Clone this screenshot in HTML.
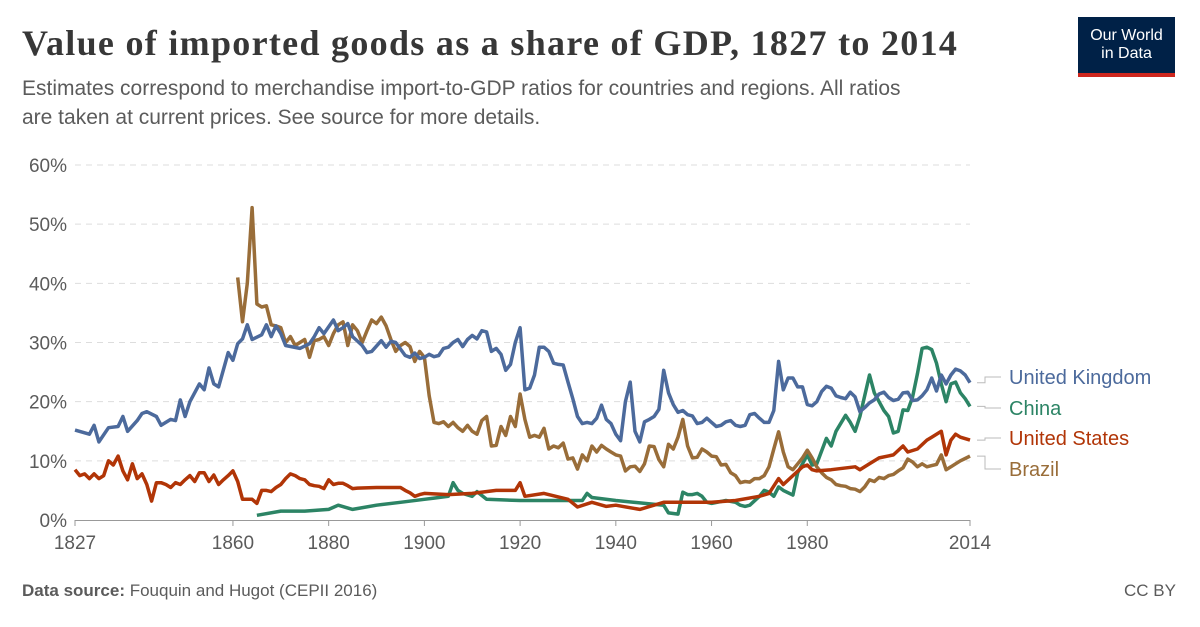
<!DOCTYPE html>
<html><head><meta charset="utf-8">
<style>
body{margin:0;background:#fff;}
#root{position:relative;width:1200px;height:627px;overflow:hidden;font-family:"Liberation Sans",sans-serif;}
.title{position:absolute;left:22px;top:22px;font-family:"Liberation Serif",serif;font-weight:bold;font-size:36px;letter-spacing:1.3px;color:#373737;white-space:nowrap;}
.sub{position:absolute;left:22px;top:74px;width:1060px;font-size:21px;line-height:29px;color:#5b5b5b;white-space:nowrap;}
.logo{position:absolute;left:1078px;top:17px;width:97px;height:60px;background:#002147;color:#fff;font-size:16px;line-height:18px;text-align:center;}
.logo span{position:absolute;left:0;width:97px;top:10px;}
.logo i{position:absolute;left:0;bottom:0;width:97px;height:4px;background:#ce261e;}
.foot{position:absolute;top:581px;font-size:17px;color:#5b5b5b;}
</style></head><body>
<div id="root">
<div class="title">Value of imported goods as a share of GDP, 1827 to 2014</div>
<div class="sub">Estimates correspond to merchandise import-to-GDP ratios for countries and regions. All ratios<br>are taken at current prices. See source for more details.</div>
<div class="logo"><span>Our World<br>in Data</span><i></i></div>
<div class="foot" style="left:22px"><b>Data source:</b> Fouquin and Hugot (CEPII 2016)</div>
<div class="foot" style="right:24px">CC BY</div>
<svg id="chart" width="1200" height="627" style="position:absolute;left:0;top:0"></svg>
</div>
<script>
const yTicks=[0,10,20,30,40,50,60];
const xTicks=[1827,1860,1880,1900,1920,1940,1960,1980,2014];
const seriesNames=["United Kingdom","China","United States","Brazil"];
const ukYears=[1827,1830,1831,1832,1834,1836,1837,1838,1840,1841,1842,1844,1845,1847,1848,1849,1850,1851,1853,1854,1855,1856,1857,1859,1860,1861,1862,1863,1864,1866,1867,1868,1869,1870,1871,1874,1876,1877,1878,1879,1881,1882,1883,1884,1885,1887,1888,1889,1891,1892,1893,1894,1896,1897,1898,1899,1900,1901,1902,1903,1904,1905,1906,1907,1908,1909,1910,1911,1912,1913,1914,1915,1916,1917,1918,1919,1920,1921,1922,1923,1924,1925,1926,1927,1928,1929,1930,1931,1932,1933,1934,1935,1936,1937,1938,1939,1940,1941,1942,1943,1944,1945,1946,1947,1948,1949,1950,1951,1952,1953,1954,1955,1956,1957,1958,1959,1960,1961,1962,1963,1964,1965,1966,1967,1968,1969,1970,1971,1972,1973,1974,1975,1976,1977,1978,1979,1980,1981,1982,1983,1984,1985,1986,1987,1988,1989,1990,1991,1992,1993,1994,1995,1996,1997,1998,1999,2000,2001,2002,2003,2004,2005,2006,2007,2008,2009,2010,2011,2012,2013,2014];
const ukValues=[15.2,14.5,16,13.2,15.6,15.8,17.5,15,16.8,18,18.3,17.5,16,17,16.8,20.3,17.5,20,23,22,25.7,23,22.5,28.3,27,29.8,30.6,33,30.5,31.3,33,31,32.8,31.5,29.5,29,29.8,31,32.5,31.5,33.8,32,32.5,33.2,31,29.5,28.3,28.5,30.3,29.2,30.2,30,27.8,27.5,28.2,27.3,27.5,28,27.6,27.8,29,29.2,30,30.5,29.3,30.5,31.2,30.6,32,31.8,28.5,29,28,25.3,26.3,30,32.5,22,22.3,24.5,29.2,29.2,28.5,26.5,26.3,26.2,23.3,20.5,17.5,16.3,16.5,16.3,17.2,19.4,17,16.3,14.5,13.4,20,23.3,15,13.2,16.6,17,17.5,18.7,25.3,21.5,19.5,18.2,18.5,17.8,17.6,16.3,16.5,17.2,16.5,15.8,16,16.6,16.8,16,15.8,16,17.8,18,17.2,16.5,16.5,18.5,26.8,22,24,24,22.5,22.5,19.5,19.3,20,21.7,22.6,22.3,21,20.7,20.5,21.6,20.8,18.3,19,19.8,20.3,21.3,21.6,20.7,20.2,20.4,21.5,21.6,20.2,20.3,21,22,24,21.8,24.5,23,24.5,25.5,25.2,24.5,23.2];
const brYears=[1861,1862,1863,1864,1865,1866,1867,1868,1869,1870,1871,1872,1873,1874,1875,1876,1877,1878,1879,1880,1881,1882,1883,1884,1885,1886,1887,1888,1889,1890,1891,1892,1893,1894,1895,1896,1897,1898,1899,1900,1901,1902,1903,1904,1905,1906,1907,1908,1909,1910,1911,1912,1913,1914,1915,1916,1917,1918,1919,1920,1921,1922,1923,1924,1925,1926,1927,1928,1929,1930,1931,1932,1933,1934,1935,1936,1937,1938,1939,1940,1941,1942,1943,1944,1945,1946,1947,1948,1949,1950,1951,1952,1953,1954,1955,1956,1957,1958,1959,1960,1961,1962,1963,1964,1965,1966,1967,1968,1969,1970,1971,1972,1973,1974,1975,1976,1977,1978,1979,1980,1981,1982,1983,1984,1985,1986,1987,1988,1989,1990,1991,1992,1993,1994,1995,1996,1997,1998,1999,2000,2001,2002,2003,2004,2005,2006,2007,2008,2009,2010,2011,2012,2013,2014];
const brValues=[41,33.5,40,52.8,36.5,36,36.2,33,32.8,32.5,30,31,29.5,30,30.5,27.5,30.3,30.5,31,29.5,31.5,33,33.5,29.5,33,32,30,32,33.8,33.2,34.3,32.8,30.5,28.5,29.5,30,29.3,26.8,28.5,27.5,21,16.5,16.3,16.6,15.8,16.5,15.6,15,16,15,14.5,16.8,17.5,12.5,12.6,15.8,14.3,17.5,15.8,21.3,17,14,14.3,14,15.5,12,12.5,12.2,13,10.3,10.5,8.6,11,10,12.5,11.5,12.6,12,11.5,11,10.8,8.3,9,9.1,8.2,9.5,12.5,12.4,10.2,9,12.8,12,14,17,12.5,10.5,10.6,12,11.5,10.8,10.7,9.3,9.4,8,7.5,6.3,6.5,6.4,7,7,7.5,9,12,14.9,11.5,9,8.5,9.5,10.5,11.8,10.5,9,8,7.2,6.8,6,5.8,5.7,5.3,5.2,4.8,5.6,6.8,6.5,7.2,7,7.5,7.7,8.3,8.8,10.3,9.8,9,9.5,9,9.2,9.4,11,8.5,9,9.5,10,10.4,10.8];
const usYears=[1827,1828,1829,1830,1831,1832,1833,1834,1835,1836,1837,1838,1839,1840,1841,1842,1843,1844,1845,1846,1847,1848,1849,1850,1851,1852,1853,1854,1855,1856,1857,1858,1859,1860,1861,1862,1863,1864,1865,1866,1867,1868,1869,1870,1871,1872,1873,1874,1875,1876,1877,1878,1879,1880,1881,1882,1883,1884,1885,1886,1890,1895,1896,1897,1898,1899,1900,1905,1910,1915,1919,1920,1921,1925,1930,1932,1935,1938,1940,1945,1950,1955,1960,1965,1970,1972,1974,1975,1977,1979,1980,1981,1982,1985,1990,1991,1993,1995,1998,2000,2001,2003,2005,2006,2008,2009,2010,2011,2012,2014];
const usValues=[8.5,7.5,7.8,7,7.8,7,7.5,10,9.3,10.8,8.3,6.8,9.5,7,7.8,6,3.2,6.3,6.3,6,5.5,6.3,6,6.8,7.5,6.5,8,8,6.5,7.6,6,6.8,7.5,8.3,6.5,3.5,3.5,3.5,2.8,5,5,4.8,5.5,6,7,7.8,7.5,7,6.8,6,5.8,5.7,5.3,6.8,6,6.2,6.2,5.8,5.3,5.4,5.5,5.5,5,4.6,4,4.3,4.5,4.3,4.5,5,5,6.3,4,4.5,3.5,2.2,3,2.3,2.5,1.8,3,3,3,3.3,4,4.5,7,6,7.5,9,9.3,8.5,8.3,8.5,9,8.5,9.5,10.5,11,12.5,11.5,12,13.5,14,15,11,13.5,14.5,14,13.5];
const cnYears=[1865,1870,1875,1880,1882,1885,1890,1895,1900,1902,1905,1906,1907,1908,1910,1911,1913,1920,1930,1933,1934,1935,1940,1950,1951,1953,1954,1955,1956,1957,1958,1959,1960,1963,1965,1966,1967,1968,1970,1971,1972,1973,1974,1975,1977,1978,1980,1981,1982,1984,1985,1986,1988,1989,1990,1991,1993,1994,1995,1996,1997,1998,1999,2000,2001,2002,2003,2004,2005,2006,2007,2008,2009,2010,2011,2012,2013,2014];
const cnValues=[0.8,1.5,1.5,1.8,2.5,1.8,2.5,3,3.5,3.7,4,6.3,5,4.5,4,4.8,3.5,3.3,3.3,3.3,4.5,3.8,3.3,2.5,1.2,1,4.7,4.3,4.3,4.5,4,3,2.8,3.3,3,2.5,2.3,2.5,4,5,4.7,4,5.6,5,4.2,8,11,9.3,9.5,13.8,12.5,15,17.7,16.5,15,17.5,24.5,21.5,20,18.5,17.5,14.7,15,18.6,18.5,20.8,24.7,29,29.2,28.8,26.5,23,20,23,23.3,21.5,20.5,19.2];

const svg=document.getElementById('chart');
const NS='http://www.w3.org/2000/svg';
const X0=75,X1=970,Y0=520,YTOP=165;
function xs(y){return X0+(y-1827)*(X1-X0)/(2014-1827);}
function ys(v){return Y0-v*(Y0-YTOP)/60;}
function mk(tag,attrs){const e=document.createElementNS(NS,tag);for(const k in attrs)e.setAttribute(k,attrs[k]);svg.appendChild(e);return e;}
yTicks.forEach(t=>{
  if(t>0){const g=mk('line',{x1:X0,x2:X1,y1:ys(t),y2:ys(t),stroke:'#ddd','stroke-dasharray':'6,5','stroke-width':1});
  
  }
  const l=mk('text',{x:67,y:ys(t)+7,'text-anchor':'end','font-size':19,fill:'#5b5b5b','font-family':'Liberation Sans, sans-serif'});
  l.textContent=t+'%';
  
  
});
const ax=mk('line',{x1:X0,x2:X1,y1:Y0+0.5,y2:Y0+0.5,stroke:'#999','stroke-width':1});


xTicks.forEach(t=>{
  const tk=mk('line',{x1:xs(t),x2:xs(t),y1:Y0,y2:Y0+6,stroke:'#999'});
  
  
  const l=mk('text',{x:xs(t),y:549,'text-anchor':'middle','font-size':19,fill:'#5b5b5b','font-family':'Liberation Sans, sans-serif'});
  l.textContent=t;
  
  
});
const series=[[cnYears,cnValues,'#2c8465'],[brYears,brValues,'#996d39'],[usYears,usValues,'#b13507'],[ukYears,ukValues,'#4c6a9c']];
const sNames=['china','brazil','united-states','united-kingdom'];
series.forEach((s,i)=>{
  const d=s[0].map((y,j)=>(j?'L':'M')+xs(y).toFixed(1)+','+ys(s[1][j]).toFixed(1)).join('');
  const p=mk('path',{d:d,fill:'none',stroke:s[2],'stroke-width':3.5,'stroke-linejoin':'round'});
  
  
});
const labels=[['United Kingdom','#4c6a9c',ukValues,377],['China','#2c8465',cnValues,408],['United States','#b13507',usValues,438],['Brazil','#996d39',brValues,469]];
labels.forEach(l=>{
  const yv=ys(l[2][l[2].length-1]);
  const c=mk('path',{d:`M977,${yv}H985V${l[3]}H1001`,fill:'none',stroke:'#bbb','stroke-width':1});
  
  
  const t=mk('text',{x:1009,y:l[3]+7,'font-size':20,fill:l[1],'font-family':'Liberation Sans, sans-serif'});
  t.textContent=l[0];
  
  
});
</script>
</body></html>
